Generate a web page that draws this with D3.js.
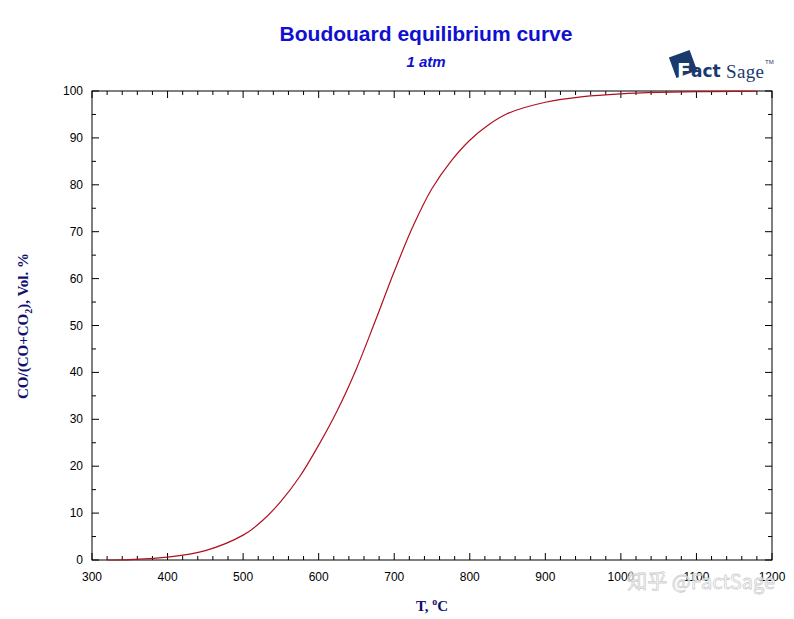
<!DOCTYPE html>
<html><head><meta charset="utf-8">
<script src="https://cdn.jsdelivr.net/npm/d3@7"></script>
<style>body{margin:0;background:#fff}</style></head>
<body><svg id="c" width="794" height="619"></svg>
<script>
const temps = [320,350,400,450,500,525,550,575,600,625,650,675,700,725,750,775,800,825,850,900,950,1000,1050,1100,1150,1180];
const coPct = [0,0.1,0.6,2,5.3,8.3,12.5,17.8,24.5,32,40.8,51,61.5,71.2,79.2,85,89.5,92.8,95.2,97.6,98.8,99.4,99.7,99.85,99.9,99.95];
const xTicks = d3.range(300,1201,100);
const yTicks = d3.range(0,101,10);

const svg = d3.select("#c");
const m = {left:92, right:772, top:91, bottom:560};
const x = d3.scaleLinear().domain([300,1200]).range([m.left,m.right]);
const y = d3.scaleLinear().domain([0,100]).range([m.bottom,m.top]);

svg.append("rect").attr("x",m.left).attr("y",m.top).attr("width",m.right-m.left).attr("height",m.bottom-m.top)
  .attr("fill","none").attr("stroke","#000");

const g = svg.append("g").attr("stroke","#000").attr("stroke-width",1);
d3.range(300,1201,20).forEach(v=>{
  const L = v%100===0?7:4;
  g.append("line").attr("x1",x(v)).attr("x2",x(v)).attr("y1",m.bottom).attr("y2",m.bottom-L);
  g.append("line").attr("x1",x(v)).attr("x2",x(v)).attr("y1",m.top).attr("y2",m.top+L);
});
d3.range(0,101,5).forEach(v=>{
  const L = v%10===0?7:4;
  g.append("line").attr("y1",y(v)).attr("y2",y(v)).attr("x1",m.left).attr("x2",m.left+L);
  g.append("line").attr("y1",y(v)).attr("y2",y(v)).attr("x1",m.right).attr("x2",m.right-L);
});
svg.selectAll(".xt").data(xTicks).enter().append("text").attr("x",d=>x(d)).attr("y",m.bottom+21)
  .attr("text-anchor","middle").attr("font-family","Liberation Sans, Arial").attr("font-size",12).text(d=>d);
svg.selectAll(".yt").data(yTicks).enter().append("text").attr("x",m.left-9).attr("y",d=>y(d)+4)
  .attr("text-anchor","end").attr("font-family","Liberation Sans, Arial").attr("font-size",12).text(d=>d);

svg.append("path").datum(temps.map((t,i)=>[t,coPct[i]]))
  .attr("d",d3.line().x(d=>x(d[0])).y(d=>y(d[1])).curve(d3.curveCatmullRom))
  .attr("fill","none").attr("stroke","#b01020").attr("stroke-width",1.2);

svg.append("text").attr("x",426).attr("y",41).attr("text-anchor","middle").attr("fill","#1010d0")
  .attr("font-family","Liberation Sans, Arial").attr("font-weight","bold").attr("font-size",21).text("Boudouard equilibrium curve");
svg.append("text").attr("x",426).attr("y",67).attr("text-anchor","middle").attr("fill","#1010d0")
  .attr("font-family","Liberation Sans, Arial").attr("font-weight","bold").attr("font-style","italic").attr("font-size",15).text("1 atm");
svg.append("text").attr("x",432).attr("y",611).attr("text-anchor","middle").attr("fill","#101070")
  .attr("font-family","Liberation Serif, Times New Roman").attr("font-weight","bold").attr("font-size",15)
  .html('T, <tspan dy="-6" font-size="10">o</tspan><tspan dy="6">C</tspan>');
svg.append("text").attr("transform","translate(28,326) rotate(-90)").attr("text-anchor","middle").attr("fill","#101070")
  .attr("font-family","Liberation Serif, Times New Roman").attr("font-weight","bold").attr("font-size",15)
  .html('CO/(CO+CO<tspan dy="4" font-size="10">2</tspan><tspan dy="-4">), Vol. %</tspan>');

// logo
const lg = svg.append("g").attr("transform","translate(669,50)");
lg.append("rect").attr("x",3).attr("y",3).attr("width",22).attr("height",22).attr("fill","#1a3a6e").attr("transform","rotate(-20 14 14)");
lg.append("text").attr("x",8).attr("y",27).attr("font-family","DejaVu Sans").attr("font-weight","bold").attr("font-size",20).attr("fill","#fff").text("F");
lg.append("text").attr("x",22).attr("y",27).attr("font-family","DejaVu Sans").attr("font-weight","bold").attr("font-size",17).attr("fill","#1a3a6e").text("act");
lg.append("text").attr("x",57).attr("y",28).attr("font-family","Liberation Serif").attr("font-size",19).attr("fill","#1a3a6e").attr("textLength",38).text("Sage");
lg.append("text").attr("x",96).attr("y",14).attr("font-family","Liberation Sans").attr("font-size",6).attr("fill","#1a3a6e").text("TM");

svg.append("text").attr("x",775).attr("y",589).attr("text-anchor","end").attr("fill","#fff").attr("fill-opacity",0.6).attr("stroke","#d0d0d0").attr("stroke-width",0.8)
  .attr("font-family","Noto Sans CJK SC").attr("font-size",20).text("知乎 @FactSage");
</script></body></html>
